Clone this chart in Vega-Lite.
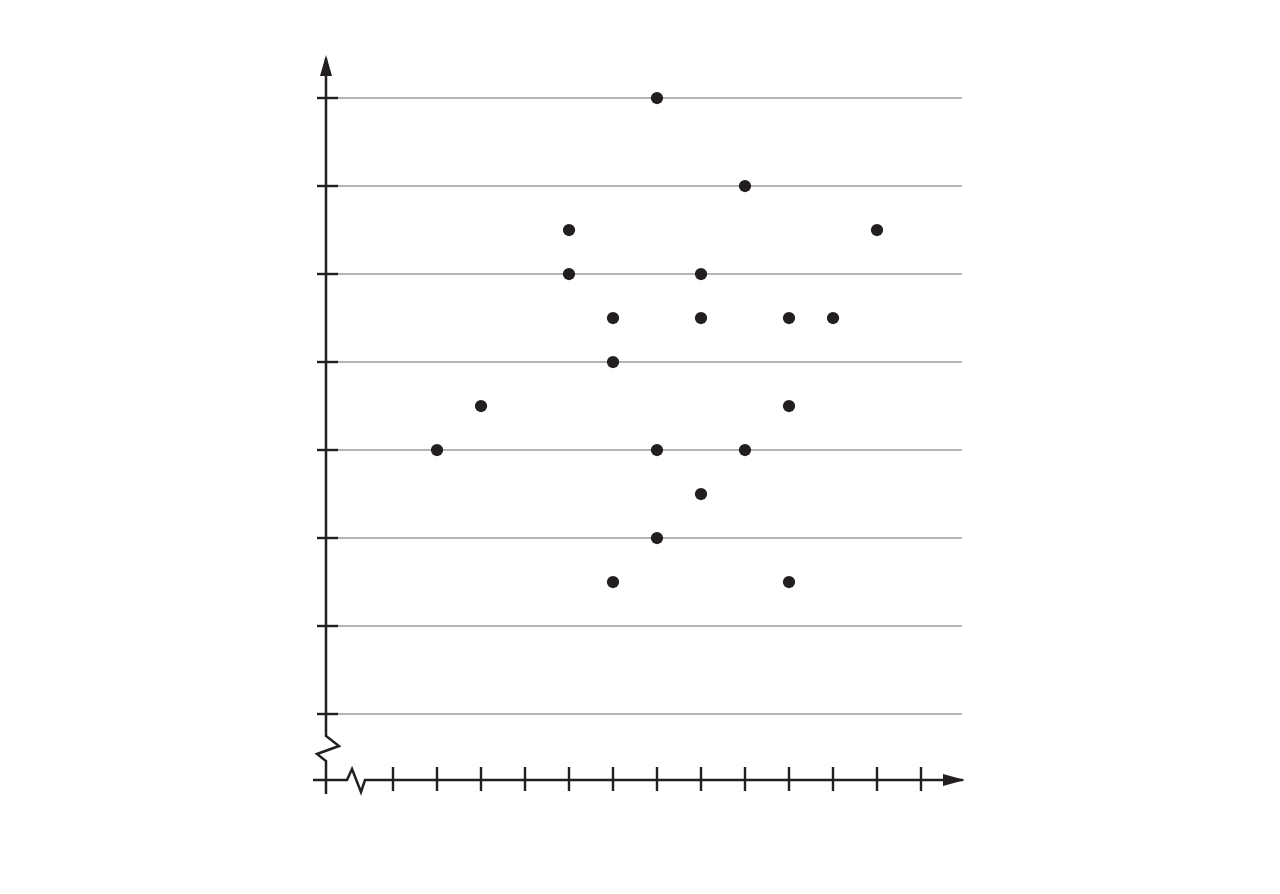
{
  "$schema": "https://vega.github.io/schema/vega-lite/v6.json",
  "width": 1280,
  "height": 894,
  "autosize": {"type": "fit", "contains": "padding"},
  "padding": 0,
  "background": "white",
  "config": {"view": {"stroke": null}},
  "datasets": {
    "points": [
      {"x": 7, "y": 8}, {"x": 9, "y": 7}, {"x": 5, "y": 6.5}, {"x": 12, "y": 6.5},
      {"x": 5, "y": 6}, {"x": 8, "y": 6}, {"x": 6, "y": 5.5}, {"x": 8, "y": 5.5},
      {"x": 10, "y": 5.5}, {"x": 11, "y": 5.5}, {"x": 6, "y": 5}, {"x": 3, "y": 4.5},
      {"x": 10, "y": 4.5}, {"x": 2, "y": 4}, {"x": 7, "y": 4}, {"x": 9, "y": 4},
      {"x": 8, "y": 3.5}, {"x": 7, "y": 3}, {"x": 6, "y": 2.5}, {"x": 10, "y": 2.5}
    ],
    "ylevels": [{"y": 1}, {"y": 2}, {"y": 3}, {"y": 4}, {"y": 5}, {"y": 6}, {"y": 7}, {"y": 8}],
    "xlevels": [
      {"x": 1}, {"x": 2}, {"x": 3}, {"x": 4}, {"x": 5}, {"x": 6}, {"x": 7},
      {"x": 8}, {"x": 9}, {"x": 10}, {"x": 11}, {"x": 12}, {"x": 13}
    ],
    "yaxis": [
      {"i": 0, "x": -0.5227, "y": 0.0909},
      {"i": 1, "x": -0.5227, "y": 0.4659},
      {"i": 2, "x": -0.7273, "y": 0.5455},
      {"i": 3, "x": -0.2273, "y": 0.6364},
      {"i": 4, "x": -0.5227, "y": 0.75},
      {"i": 5, "x": -0.5227, "y": 8.45}
    ],
    "xaxis": [
      {"i": 0, "x": -0.818, "y": 0.25},
      {"i": 1, "x": -0.0455, "y": 0.25},
      {"i": 2, "x": 0.0682, "y": 0.375},
      {"i": 3, "x": 0.2727, "y": 0.1136},
      {"i": 4, "x": 0.3636, "y": 0.25},
      {"i": 5, "x": 13.95, "y": 0.25}
    ],
    "arrows": [
      {"dir": "up", "x": -0.5227, "y": 8.489},
      {"dir": "right", "x": 14.0, "y": 0.25}
    ]
  },
  "encoding": {
    "x": {"type": "quantitative", "scale": {"domain": [-7.9318, 21.1591], "nice": false, "zero": false}, "axis": null},
    "y": {"type": "quantitative", "scale": {"domain": [-1.0454, 9.1137], "nice": false, "zero": false}, "axis": null}
  },
  "layer": [
    {
      "data": {"name": "ylevels"},
      "mark": {"type": "rule", "color": "#6b6b6b", "strokeWidth": 1.1},
      "encoding": {
        "y": {"field": "y", "type": "quantitative"},
        "x": {"datum": -0.25},
        "x2": {"datum": 13.93}
      }
    },
    {
      "data": {"name": "ylevels"},
      "mark": {"type": "rule", "color": "#231f20", "strokeWidth": 2.4},
      "encoding": {
        "y": {"field": "y", "type": "quantitative"},
        "x": {"datum": -0.727},
        "x2": {"datum": -0.25}
      }
    },
    {
      "data": {"name": "xlevels"},
      "mark": {"type": "rule", "color": "#231f20", "strokeWidth": 2.4},
      "encoding": {
        "x": {"field": "x", "type": "quantitative"},
        "y": {"datum": 0.125},
        "y2": {"datum": 0.398}
      }
    },
    {
      "data": {"name": "yaxis"},
      "mark": {"type": "line", "color": "#231f20", "strokeWidth": 2.5, "strokeJoin": "miter"},
      "encoding": {
        "x": {"field": "x", "type": "quantitative"},
        "y": {"field": "y", "type": "quantitative"},
        "order": {"field": "i"}
      }
    },
    {
      "data": {"name": "xaxis"},
      "mark": {"type": "line", "color": "#231f20", "strokeWidth": 2.5, "strokeJoin": "miter"},
      "encoding": {
        "x": {"field": "x", "type": "quantitative"},
        "y": {"field": "y", "type": "quantitative"},
        "order": {"field": "i"}
      }
    },
    {
      "data": {"name": "arrows"},
      "transform": [{"filter": "datum.dir === 'up'"}],
      "mark": {"type": "point", "shape": "M0,0L0.286,1L-0.286,1Z", "filled": true, "color": "#231f20", "opacity": 1, "size": 1764},
      "encoding": {
        "x": {"field": "x", "type": "quantitative"},
        "y": {"field": "y", "type": "quantitative"}
      }
    },
    {
      "data": {"name": "arrows"},
      "transform": [{"filter": "datum.dir === 'right'"}],
      "mark": {"type": "point", "shape": "M0,0L-1.048,-0.286L-1.048,0.286Z", "filled": true, "color": "#231f20", "opacity": 1, "size": 1764},
      "encoding": {
        "x": {"field": "x", "type": "quantitative"},
        "y": {"field": "y", "type": "quantitative"}
      }
    },
    {
      "data": {"name": "points"},
      "mark": {"type": "circle", "color": "#231f20", "opacity": 1, "size": 150},
      "encoding": {
        "x": {"field": "x", "type": "quantitative"},
        "y": {"field": "y", "type": "quantitative"}
      }
    }
  ]
}
